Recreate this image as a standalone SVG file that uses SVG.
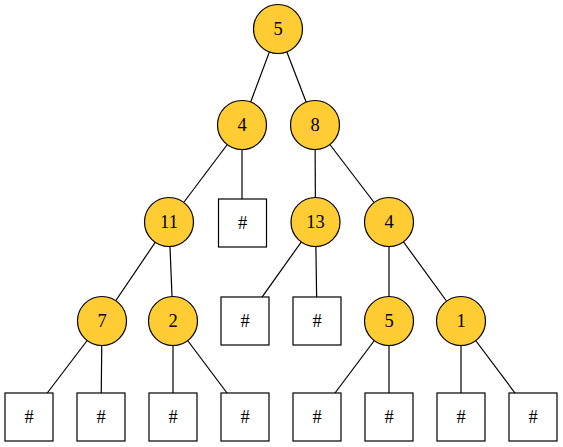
<svg xmlns="http://www.w3.org/2000/svg" width="563" height="447" viewBox="0 0 563 447">
<style>
.c{fill:#ffcc33;stroke:#000;stroke-width:1.2}
.s{fill:#fff;stroke:#000;stroke-width:1.2}
.e line{stroke:#000;stroke-width:1.2}
text{font-family:"Liberation Serif","Times New Roman",serif;font-size:18.5px;text-anchor:middle;dominant-baseline:central;fill:#000}
</style>
<rect width="563" height="447" fill="#fff"/>
<g id="edges" class="e">
<line x1="278" y1="29" x2="242" y2="125"/>
<line x1="278" y1="29" x2="315" y2="125"/>
<line x1="242" y1="125" x2="169" y2="222"/>
<line x1="242" y1="125" x2="242" y2="222"/>
<line x1="315" y1="125" x2="315.5" y2="222"/>
<line x1="315" y1="125" x2="389" y2="222"/>
<line x1="169" y1="222" x2="102" y2="321"/>
<line x1="169" y1="222" x2="173" y2="321"/>
<line x1="315.5" y1="222" x2="245" y2="321"/>
<line x1="315.5" y1="222" x2="317" y2="321"/>
<line x1="389" y1="222" x2="389" y2="321"/>
<line x1="389" y1="222" x2="461" y2="321"/>
<line x1="102" y1="321" x2="29" y2="417"/>
<line x1="102" y1="321" x2="101" y2="417"/>
<line x1="173" y1="321" x2="173" y2="417"/>
<line x1="173" y1="321" x2="245" y2="417"/>
<line x1="389" y1="321" x2="317" y2="417"/>
<line x1="389" y1="321" x2="389" y2="417"/>
<line x1="461" y1="321" x2="461" y2="417"/>
<line x1="461" y1="321" x2="533" y2="417"/>
</g>
<g id="n5"><circle class="c" cx="278" cy="29" r="24.5"/><text x="278" y="29">5</text></g>
<g id="n4a"><circle class="c" cx="242" cy="125" r="24.5"/><text x="242" y="125">4</text></g>
<g id="n8"><circle class="c" cx="315" cy="125" r="24.5"/><text x="315" y="125">8</text></g>
<g id="n11"><circle class="c" cx="169" cy="222" r="24.5"/><text x="169" y="222">11</text></g>
<g id="h1"><rect class="s" x="218.5" y="199" width="48" height="48"/><text x="242.5" y="223">#</text></g>
<g id="n13"><circle class="c" cx="315.5" cy="222" r="24.5"/><text x="315.5" y="222">13</text></g>
<g id="n4b"><circle class="c" cx="389" cy="222" r="24.5"/><text x="389" y="222">4</text></g>
<g id="n7"><circle class="c" cx="102" cy="321" r="24.5"/><text x="102" y="321">7</text></g>
<g id="n2"><circle class="c" cx="173" cy="321" r="24.5"/><text x="173" y="321">2</text></g>
<g id="h2"><rect class="s" x="221" y="297" width="48" height="48"/><text x="245" y="321">#</text></g>
<g id="h3"><rect class="s" x="293" y="297" width="48" height="48"/><text x="317" y="321">#</text></g>
<g id="n5b"><circle class="c" cx="389" cy="321" r="24.5"/><text x="389" y="321">5</text></g>
<g id="n1"><circle class="c" cx="461" cy="321" r="24.5"/><text x="461" y="321">1</text></g>
<g id="h4"><rect class="s" x="5" y="393" width="48" height="48"/><text x="29" y="417">#</text></g>
<g id="h5"><rect class="s" x="77" y="393" width="48" height="48"/><text x="101" y="417">#</text></g>
<g id="h6"><rect class="s" x="149" y="393" width="48" height="48"/><text x="173" y="417">#</text></g>
<g id="h7"><rect class="s" x="221" y="393" width="48" height="48"/><text x="245" y="417">#</text></g>
<g id="h8"><rect class="s" x="293" y="393" width="48" height="48"/><text x="317" y="417">#</text></g>
<g id="h9"><rect class="s" x="365" y="393" width="48" height="48"/><text x="389" y="417">#</text></g>
<g id="h10"><rect class="s" x="437" y="393" width="48" height="48"/><text x="461" y="417">#</text></g>
<g id="h11"><rect class="s" x="509" y="393" width="48" height="48"/><text x="533" y="417">#</text></g>
</svg>
